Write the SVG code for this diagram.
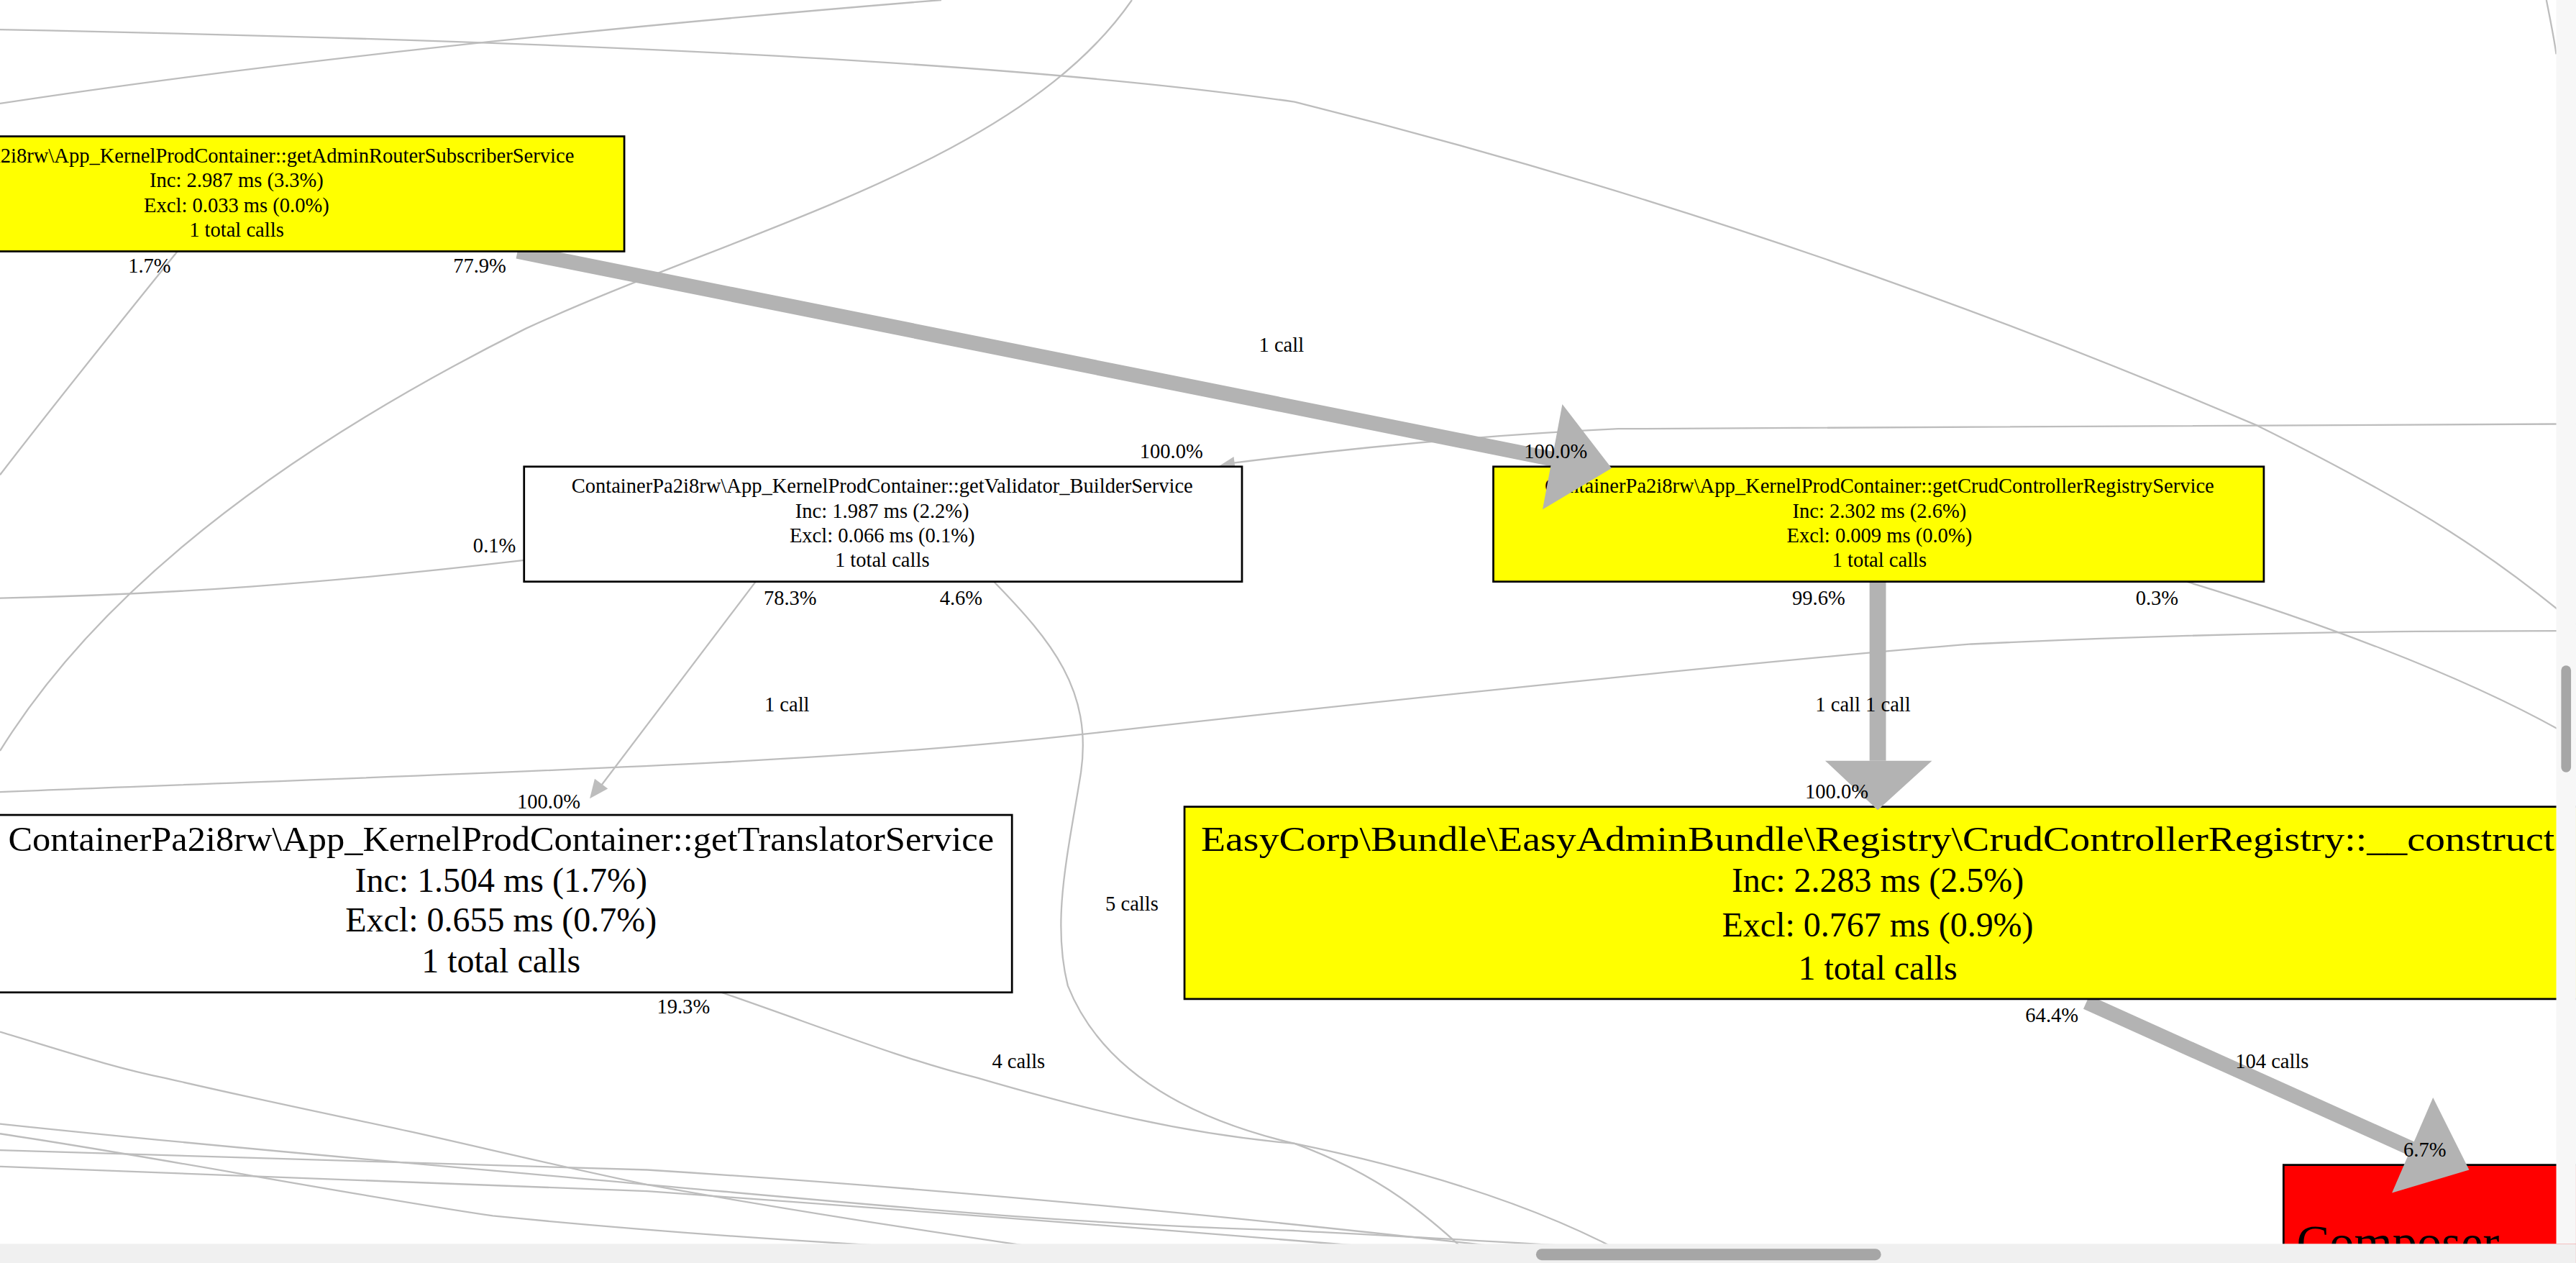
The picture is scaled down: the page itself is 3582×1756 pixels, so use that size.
<svg xmlns="http://www.w3.org/2000/svg" width="3582" height="1756" viewBox="0 0 3582 1756">
<style>
text{font-family:"Liberation Serif","Times New Roman",serif;fill:#000}
.s{font-size:12.5px}
.b{font-size:21px}
.m{text-anchor:middle}
.e{fill:none;stroke:#bdbdbd;stroke-width:1}
.t{fill:none;stroke:#b3b3b3}
.n{stroke:#000;stroke-width:1.2}
</style>
<rect width="3582" height="1756" fill="#fff"/>
<g transform="scale(2.2844)">
<g id="connectors">
<path class="e" d="M0,18 C300,24 600,35 788,62 C985,111 1180,176 1374,259 C1475,309 1520,340 1568,380"/>
<path class="e" d="M0,63 C150,40 350,18 573,0"/>
<path class="e" d="M689,0 C620,100 450,140 320,200 C170,275 60,360 0,457"/>
<path class="e" d="M108,153 C70,200 30,250 0,289"/>
<path class="e" d="M319,341 C200,355 100,362 0,364"/>
<path class="e" d="M0,482 C300,470 500,465 658,447 C900,420 1100,400 1200,392 C1350,385 1450,384 1568,384"/>
<path class="e" d="M1331,354 C1400,375 1500,410 1568,450"/>
<path class="e" d="M1550,0 C1553,15 1555,25 1556,33"/>
<path class="e" d="M1568,258 C1300,259 1100,259 985,261 C900,265 820,273 749,282"/>
<polygon points="740,285 751,278 752,286" fill="#bdbdbd"/>
<path class="e" d="M460,354 L366,478"/>
<polygon points="359,486 362,474 370,480" fill="#bdbdbd"/>
<path class="e" d="M605,354 C640,390 665,420 658,470 C650,520 640,560 650,600 C670,650 720,680 788,696 C840,715 870,740 900,769"/>
<path class="e" d="M439,604 C500,625 550,645 595,656 C660,675 720,690 788,696 C880,715 950,740 1000,769"/>
<path class="e" d="M0,628 C40,640 70,650 100,656 C160,670 210,680 251,689 C300,700 350,712 394,721 C500,740 600,755 700,769"/>
<path class="e" d="M0,684 C150,700 300,712 394,721 C550,735 650,745 788,749 C900,755 1000,760 1100,769"/>
<path class="e" d="M0,700 C150,705 300,710 394,712 C600,725 800,745 1000,769"/>
<path class="e" d="M0,710 C150,715 300,722 394,725 C600,740 800,755 950,769"/>
<path class="e" d="M0,690 C100,705 200,725 300,740 C450,755 600,762 750,769"/>
<path class="t" stroke-width="9" d="M315,153 L948,280"/>
<path class="t" stroke-width="10" d="M1143,354 L1143,463"/>
<path class="t" stroke-width="9" d="M1270,610 L1470,700"/>
</g>
<g id="adminRouter">
<rect class="n" x="-92" y="83" width="472" height="70" fill="#ffff00"/>
<text class="s m" x="144" y="99">ContainerPa2i8rw\App_KernelProdContainer::getAdminRouterSubscriberService</text>
<text class="s m" x="144" y="114">Inc: 2.987 ms (3.3%)</text>
<text class="s m" x="144" y="129">Excl: 0.033 ms (0.0%)</text>
<text class="s m" x="144" y="144">1 total calls</text>
</g>
<g id="validator">
<rect class="n" x="319" y="284" width="437" height="70" fill="#fff"/>
<text class="s m" x="537" y="300">ContainerPa2i8rw\App_KernelProdContainer::getValidator_BuilderService</text>
<text class="s m" x="537" y="315">Inc: 1.987 ms (2.2%)</text>
<text class="s m" x="537" y="330">Excl: 0.066 ms (0.1%)</text>
<text class="s m" x="537" y="345">1 total calls</text>
</g>
<g id="crudService">
<rect class="n" x="909" y="284" width="469" height="70" fill="#ffff00"/>
<text class="s m" x="1144" y="300">ContainerPa2i8rw\App_KernelProdContainer::getCrudControllerRegistryService</text>
<text class="s m" x="1144" y="315">Inc: 2.302 ms (2.6%)</text>
<text class="s m" x="1144" y="330">Excl: 0.009 ms (0.0%)</text>
<text class="s m" x="1144" y="345">1 total calls</text>
</g>
<polygon points="951,246 981,285 939,310" fill="#b3b3b3"/>
<g id="translator">
<rect class="n" x="-6" y="496" width="622" height="108" fill="#fff"/>
<text class="b m" x="305" y="518" textLength="600" lengthAdjust="spacingAndGlyphs">ContainerPa2i8rw\App_KernelProdContainer::getTranslatorService</text>
<text class="b m" x="305" y="543">Inc: 1.504 ms (1.7%)</text>
<text class="b m" x="305" y="567">Excl: 0.655 ms (0.7%)</text>
<text class="b m" x="305" y="592">1 total calls</text>
</g>
<g id="crudRegistry">
<rect class="n" x="721" y="491" width="900" height="117" fill="#ffff00"/>
<text class="b m" x="1143" y="518" textLength="824" lengthAdjust="spacingAndGlyphs">EasyCorp\Bundle\EasyAdminBundle\Registry\CrudControllerRegistry::__construct</text>
<text class="b m" x="1143" y="543">Inc: 2.283 ms (2.5%)</text>
<text class="b m" x="1143" y="570">Excl: 0.767 ms (0.9%)</text>
<text class="b m" x="1143" y="596">1 total calls</text>
</g>
<polygon points="1111,463 1176,463 1143,493" fill="#b3b3b3"/>
<g id="composer">
<rect class="n" x="1390" y="709" width="200" height="80" fill="#ff0000"/>
<text x="1398" y="766" style="font-size:30px">Composer</text>
</g>
<polygon points="1481,668 1503,712 1456,726" fill="#b3b3b3"/>
<g id="labels">
<text class="s m" x="91" y="166">1.7%</text>
<text class="s m" x="292" y="166">77.9%</text>
<text class="s m" x="780" y="214">1 call</text>
<text class="s m" x="713" y="279">100.0%</text>
<text class="s m" x="947" y="279">100.0%</text>
<text class="s m" x="301" y="336">0.1%</text>
<text class="s m" x="481" y="368">78.3%</text>
<text class="s m" x="585" y="368">4.6%</text>
<text class="s m" x="1107" y="368">99.6%</text>
<text class="s m" x="1313" y="368">0.3%</text>
<text class="s m" x="479" y="433">1 call</text>
<text class="s m" x="1134" y="433">1 call 1 call</text>
<text class="s m" x="334" y="492">100.0%</text>
<text class="s m" x="1118" y="486">100.0%</text>
<text class="s m" x="689" y="554">5 calls</text>
<text class="s m" x="416" y="617">19.3%</text>
<text class="s m" x="620" y="650">4 calls</text>
<text class="s m" x="1249" y="622">64.4%</text>
<text class="s m" x="1383" y="650">104 calls</text>
<text class="s m" x="1476" y="704">6.7%</text>
</g>
<g id="scrollbars">
<rect x="0" y="757" width="1568" height="12" fill="#f0f0f0"/>
<rect x="935" y="760" width="210" height="7" rx="3.5" fill="#a6a6a6"/>
<rect x="1556" y="0" width="12" height="757" fill="#f7f7f7"/>
<rect x="1559" y="405" width="6" height="65" rx="3" fill="#a6a6a6"/>
</g>
</g>
</svg>
